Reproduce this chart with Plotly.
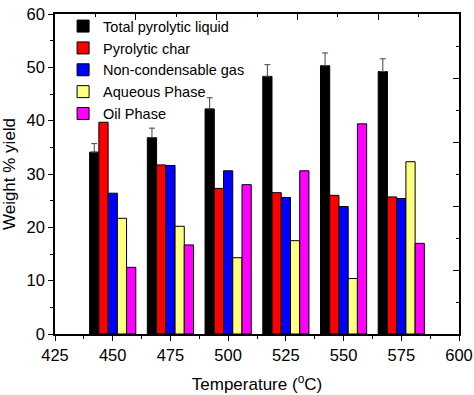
import plotly.graph_objects as go

temps = [450, 475, 500, 525, 550, 575]
series_names = ["Total pyrolytic liquid", "Pyrolytic char", "Non-condensable gas", "Aqueous Phase", "Oil Phase"]
total_liquid = [34.1, 36.8, 42.2, 48.3, 50.3, 49.2]
total_liquid_err = [1.6, 1.8, 2.1, 2.2, 2.4, 2.4]
char = [39.7, 31.7, 27.3, 26.5, 26.0, 25.7]
gas = [26.4, 31.6, 30.6, 25.6, 23.9, 25.4]
aqueous = [21.7, 20.2, 14.3, 17.5, 10.4, 32.3]
oil = [12.5, 16.7, 28.0, 30.6, 39.4, 17.0]
colors = ["#000000", "#ff0000", "#0000ff", "#ffff80", "#ff00ff"]

font_family = "Arial, 'Liberation Sans', sans-serif"

fig = go.Figure()
values = [total_liquid, char, gas, aqueous, oil]
for i, (name, vals, col) in enumerate(zip(series_names, values, colors)):
    kw = {}
    if i == 0:
        kw["error_y"] = dict(type="data", array=total_liquid_err,
                             arrayminus=[0] * len(total_liquid_err), symmetric=False,
                             color="#444444", thickness=1, width=3)
    fig.add_trace(go.Bar(x=temps, y=vals, name=name,
                         marker=dict(color=col, line=dict(color="#000000", width=1)),
                         **kw))

# dummy trace for top/right mirror tick axes
fig.add_trace(go.Scatter(x=[None], y=[None], xaxis="x2", yaxis="y2",
                         showlegend=False, hoverinfo="skip"))

fig.update_layout(
    width=474, height=395,
    margin=dict(l=55, r=15, t=10, b=61),
    paper_bgcolor="white", plot_bgcolor="white",
    barmode="group", bargap=0.2, bargroupgap=0,
    font=dict(family=font_family, size=16, color="black"),
    showlegend=True,
    legend=dict(x=0.02, y=1.012, xanchor="left", yanchor="top",
                bgcolor="rgba(0,0,0,0)", borderwidth=0,
                font=dict(size=14.5), tracegroupgap=0, itemwidth=30),
    xaxis=dict(range=[425, 600], tickmode="linear", tick0=425, dtick=25,
               ticks="outside", ticklen=5, tickwidth=1.2, tickcolor="black",
               minor=dict(dtick=12.5, tick0=425, ticks="outside", ticklen=3, tickcolor="black"),
               showline=True, linecolor="black", linewidth=1.5, mirror=True,
               showgrid=False, zeroline=False, automargin=False,
               tickfont=dict(size=16.5),
               title=dict(text="Temperature (<sup>o</sup>C)", font=dict(size=17), standoff=16)),
    yaxis=dict(range=[0, 60], tickmode="linear", tick0=0, dtick=10,
               ticks="outside", ticklen=5, tickwidth=1.2, tickcolor="black",
               minor=dict(dtick=5, tick0=0, ticks="outside", ticklen=3, tickcolor="black"),
               showline=True, linecolor="black", linewidth=1.5, mirror=True,
               showgrid=False, zeroline=False, automargin=False,
               tickfont=dict(size=16.5),
               title=dict(text="Weight % yield", font=dict(size=17), standoff=8)),
    xaxis2=dict(overlaying="x", side="top", anchor="y", range=[0, 1],
                tickmode="linear", tick0=0, dtick=0.2, ticks="inside", ticklen=6,
                tickcolor="black", tickwidth=1.2, automargin=False,
                minor=dict(dtick=0.1, tick0=0, ticks="inside", ticklen=3, tickcolor="black"),
                showticklabels=False, showgrid=False, zeroline=False, showline=False),
    yaxis2=dict(overlaying="y", side="right", anchor="x", range=[0, 1],
                tickmode="linear", tick0=0, dtick=0.2, ticks="inside", ticklen=6,
                tickcolor="black", tickwidth=1.2, automargin=False,
                minor=dict(dtick=0.1, tick0=0, ticks="inside", ticklen=3, tickcolor="black"),
                showticklabels=False, showgrid=False, zeroline=False, showline=False),
)

fig.write_html("out.html", config={"displayModeBar": False},
               post_script="document.body.style.margin='0';document.body.style.padding='0';")
